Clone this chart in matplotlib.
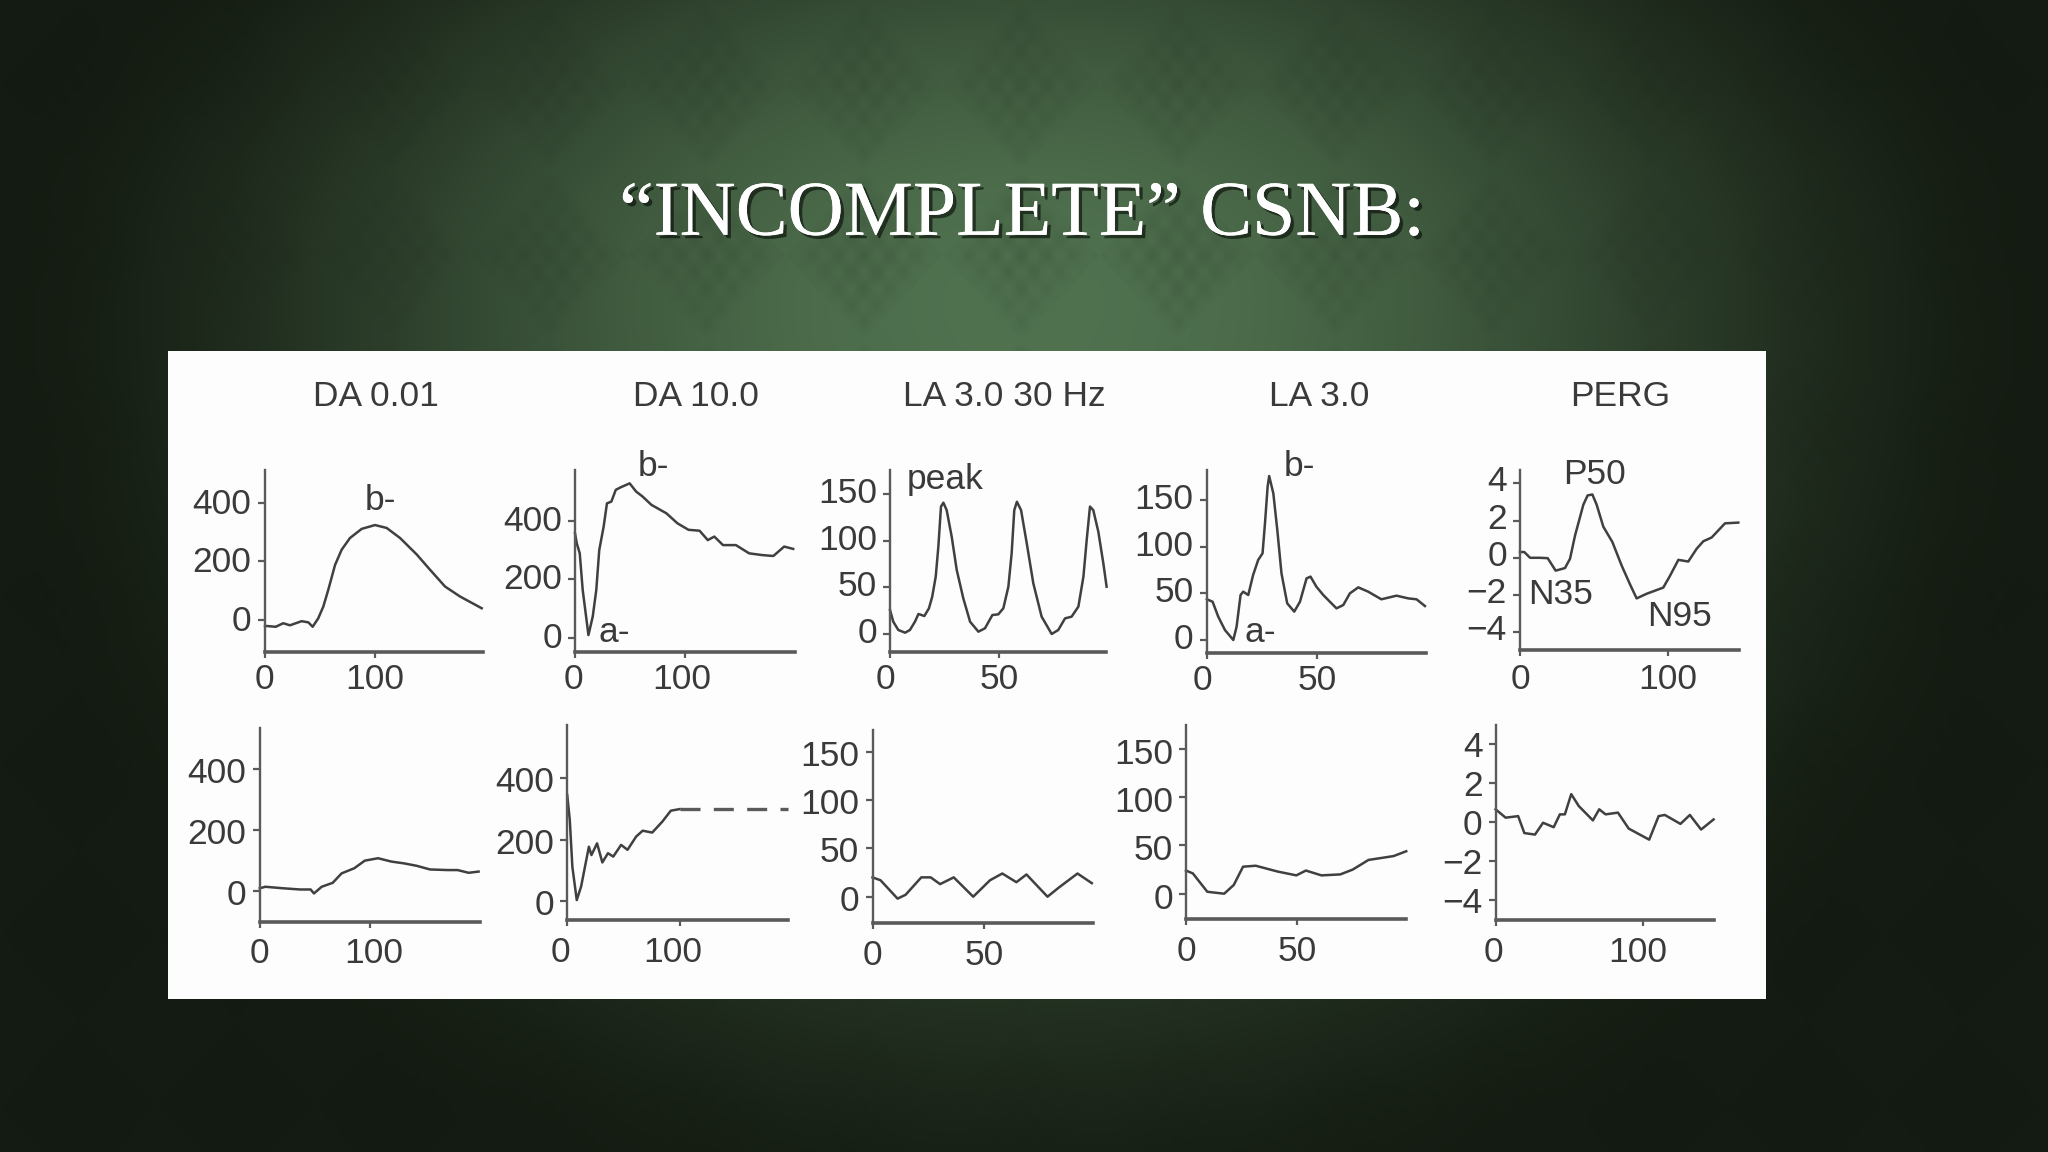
import numpy as np
import matplotlib
matplotlib.use("Agg")
import matplotlib.pyplot as plt
import matplotlib.patheffects as pe
from matplotlib.patches import Rectangle
from matplotlib.transforms import ScaledTranslation

W, H = 2048, 1152

TITLE = "\u201cINCOMPLETE\u201d CSNB:"
column_titles = ["DA 0.01", "DA 10.0", "LA 3.0 30 Hz", "LA 3.0", "PERG"]

da001_top_x = [.5,10.2,17,23.1,33.7,39.8,43.7,48.8,53.4,57.9,64,70,77.6,88.2,100.3,110.9,123,138.1,150.2,163.8,177.4,197.1]
da001_top_y = [-19,-22,-10,-17,-3,-7,-22,7,47,104,188,240,280,311,324,314,280,224,172,115,81,41]
da10_top_x = [0,1.6,4.3,7,12.2,16.1,19.3,22,26,29,33,37,41.7,49.6,55.5,61.4,69.3,83,93,103,113,120.5,126.4,134.3,146,158,170,180,189.8,198]
da10_top_y = [357,323,289,164,11,74,164,300,380,459,465,505,514,527,499,482,454,425,391,369,366,334,346,317,317,289,283,280,312,304]
la30_top_x = [0,1.5,3.8,6.9,9.1,11.4,13,15.7,17.8,19.3,20.9,22.1,23.3,24.4,25.9,28.2,30.5,33.5,36.6,40.4,43.4,46.8,49.5,51.8,54.1,55.6,56.8,58,59.9,62.5,65.5,69.3,73.9,76.9,80,83,86.1,88.4,89.9,91.4,92.9,95.2,97.5,99]
la30_top_y = [25.8,13.2,4.3,1.4,4.3,13.2,21.5,19.3,27.6,40.1,61.6,93.8,136.8,141,133,104.5,68.7,38.3,13.2,2.5,6.1,20.4,21.1,27.6,50.8,86.6,133,142,133,97.4,54.4,18.6,0,4.3,16.8,18.6,29.4,61.6,101,136.8,133,110,75.9,50.8]
la3_top_x = [0,2.6,5.15,8.2,12,13.5,15.3,16.5,18.8,21,23.3,25.3,26.4,27.6,28.3,30.2,32,33.9,36.5,39.7,42.3,45.3,47.1,49.8,52.9,55.9,58.9,62,65,68.8,73.3,79.3,86.2,91.5,95.3,99.1]
la3_top_y = [43.6,41,25,10.7,0,14.3,48.2,51.8,48.2,69.6,85.7,92.9,125,164.3,175.7,157,117.9,71.4,39.3,30.4,41,66,67.9,57,48.2,41,33.9,37.5,50,56.4,51.8,43.6,47.5,44.6,43.6,36.4]
perg_top_x = [0,2.9,6.8,13.5,18.7,24.1,30.4,33.8,37.2,42.8,45.7,48.9,51.8,56.3,62.4,68.7,74.3,78.8,85.6,96.8,101.4,107,113.7,119.4,123.9,129.5,138.5,147.5]
perg_top_y = [.31,.31,0,0,-.02,-.69,-.55,-.05,1.2,2.85,3.35,3.4,2.85,1.67,.85,-.42,-1.42,-2.18,-1.93,-1.6,-.96,-.11,-.2,.49,.89,1.09,1.85,1.89]

da001_bot_x = [0,5,21,36.5,46,49,56,66,74,85.5,95,107,119,130.6,142,154,170,179,189,198]
da001_bot_y = [8,13,8,4,4,-9,13,26,57,74,99,107,96,90,82,70,68,68,59,63]
da10_bot_x = [0,2.3,4.6,8.5,12.4,19.3,21.6,26.6,31.3,36.3,41,48,53.7,61.4,67.2,75.7,84.6,92.3,100]
da10_bot_y = [345,264,112,4,48,177,150,188,126,156,145,183,167,210,229,223,258,294,299]
da10_dash_x = [100,197]
da10_dash_y = [299,299]
la30_bot_x = [0,3.6,11.2,14.8,21.8,26,30.2,36.3,45,52.5,58,64.3,68.8,78.2,83,91.6,98]
la30_bot_y = [20,17,-2,2,20,20,13,20,0,17,24,15,23,0,9,24,14]
la3_bot_x = [0,3.1,9.6,17.2,21.5,25.7,31.4,41.2,49.7,54,61,69.5,75.1,82.2,87.9,93.5,99.2]
la3_bot_y = [24,21,2,0,9,28,29,23,19,24,19,20,25,35,37,39,44]
perg_bot_x = [0,6.8,15.3,19.5,26.7,32.2,39.4,43.6,47,51.3,56.4,66,70.3,74.6,83,90.3,104.2,110.6,114.8,125.4,131.8,139.4,147.9]
perg_bot_y = [.66,.23,.31,-.56,-.64,-.03,-.26,.4,.4,1.44,.83,.09,.66,.4,.49,-.33,-.9,.31,.37,-.09,.37,-.38,.14]

da_yticks = [0, 200, 400]
la_yticks = [0, 50, 100, 150]
perg_yticks = [-4, -2, 0, 2, 4]
da_xticks = [0, 100]
la_xticks = [0, 50]
perg_xticks = [0, 100]

plt.rcParams['font.family'] = ['Liberation Sans', 'DejaVu Sans']
INK = '#3a3a3a'
AXC = '#5a5a5a'
FS = 25.5

fig = plt.figure(figsize=(W/100, H/100), dpi=100)

# background: radial glow with a faint diamond wallpaper
bg = fig.add_axes([0, 0, 1, 1]); bg.axis('off')
yy, xx = np.mgrid[0:H, 0:W].astype(float)
ay = np.where(yy < 300, 620.0, 1000.0)
r2 = ((xx-1024)/1060.0)**2 + ((yy-300)/ay)**2
g = np.clip(1-r2, 0, 1)**2.0
fx = ((xx/157.0) % 1) - .5
fy = ((yy/170.0) % 1) - .5
d = (np.abs(fx) + np.abs(fy))*2
m = np.clip(1-d, 0, 1)**.4 * (0.65+0.35*np.cos(2*np.pi*fx*6)*np.cos(2*np.pi*fy*5))
c0 = np.array([0x14,0x1b,0x12])/255
c1 = np.array([0x50,0x72,0x4f])/255
shade = 1 - 0.10*m*(0.3+g)
img = (c0[None,None,:]*(1-g[...,None]) + c1[None,None,:]*g[...,None])*shade[...,None]
bg.imshow(np.clip(img,0,1), extent=[0,W,H,0], aspect='auto')
bg.set_xlim(0,W); bg.set_ylim(H,0)
bg.add_patch(Rectangle((168,351),1598,648,fc='#fdfdfd',ec='none'))

t = bg.text(1022, 216, TITLE, ha='center', va='center', color='white',
        fontsize=56, family=['Liberation Serif','DejaVu Serif'])
t.set_path_effects([pe.withSimplePatchShadow(offset=(2.5,-2.5), shadow_rgbFace='black', alpha=0.55), pe.Normal()])

def panel(left, right, bot, top, xtp, ytp, xt, yt, xs, ys, ydy=0, xdx=(0,0), xpad=4):
    ax = fig.add_axes([left/W, 1-bot/H, (right-left)/W, (bot-top)/H])
    ax.patch.set_alpha(0)
    xscale = xt[-1]/(xtp-left)
    ax.set_xlim(0, (right-left)*xscale)
    yscale = (yt[-1]-yt[0])/(ytp[0]-ytp[1])
    ax.set_ylim(yt[0]-(bot-ytp[0])*yscale, yt[0]+(ytp[0]-top)*yscale)
    ax.plot(xs, ys, color='#404040', lw=1.8, solid_joinstyle='round', clip_on=False)
    for s in ['top','right']:
        ax.spines[s].set_visible(False)
    ax.spines['left'].set_color(AXC); ax.spines['left'].set_linewidth(1.7)
    ax.spines['bottom'].set_color(AXC); ax.spines['bottom'].set_linewidth(2.6)
    ax.set_xticks(xt); ax.set_yticks(yt)
    ax.set_yticklabels([str(v).replace('-', '\u2212') for v in yt])
    ax.tick_params(axis='y', length=5, width=1.6, color=AXC, pad=4.5, labelsize=FS, labelcolor=INK)
    ax.tick_params(axis='x', length=4, width=1.6, color=AXC, pad=xpad, labelsize=FS, labelcolor=INK)
    for lab in ax.get_yticklabels():
        lab.set_transform(lab.get_transform() + ScaledTranslation(0, -ydy/100, fig.dpi_scale_trans))
    for lab, dx in zip(ax.get_xticklabels(), xdx):
        lab.set_transform(lab.get_transform() + ScaledTranslation(dx/100, 0, fig.dpi_scale_trans))
    return ax

panel(264.5,483,651.7,470,374.7,(620.3,502.7),da_xticks,da_yticks,da001_top_x,da001_top_y,ydy=-2)
panel(575,794.5,651.7,470,685.2,(638.3,520.7),da_xticks,da_yticks,da10_top_x,da10_top_y,ydy=-3,xdx=(-2,-3))
panel(890,1105.6,651.7,470,999.4,(634,494.3),la_xticks,la_yticks,la30_top_x,la30_top_y,ydy=-4,xdx=(-5,0))
panel(1206.9,1425.6,652.7,470,1316.9,(640,500),la_xticks,la_yticks,la3_top_x,la3_top_y,ydy=-4,xdx=(-4,0))
panel(1520,1738.75,650,470,1668,(632.3,483.3),perg_xticks,perg_yticks,perg_top_x,perg_top_y,ydy=-5,xpad=5.5)

panel(259.8,480,921.7,728,370.3,(890.7,769.3),da_xticks,da_yticks,da001_bot_x,da001_bot_y,ydy=1,xdx=(0,3),xpad=7)
a7 = panel(567.2,788,920,725,679.5,(901.3,778),da_xticks,da_yticks,da10_bot_x,da10_bot_y,ydy=1,xdx=(-7,-7),xpad=7.5)
a7.plot(da10_dash_x, da10_dash_y, color='#5a5a5a', lw=2.4, dashes=(6,4), clip_on=False)
panel(872.5,1093,923.3,730,984.4,(896.7,751.7),la_xticks,la_yticks,la30_bot_x,la30_bot_y,ydy=1,xpad=7)
panel(1186,1405.6,919,725,1297,(893.7,749),la_xticks,la_yticks,la3_bot_x,la3_bot_y,ydy=2,xpad=7.5)
panel(1495.6,1713.75,920,725,1643,(900,744.3),perg_xticks,perg_yticks,perg_bot_x,perg_bot_y,xdx=(-2,-5),xpad=7.5)

def label(x, y, s, size=FS):
    bg.text(x, y, s, ha='center', va='center', color=INK, fontsize=size)

for cx, s in zip([376,696,1004,1319,1620], column_titles):
    label(cx, 396, s)
for x,y,s in [(380,501,'b-'),(653,466,'b-'),(614,633,'a-'),(945,480,'peak'),(1299,466,'b-'),
              (1260,633,'a-'),(1595,475,'P50'),(1561,594,'N35'),(1679,617,'N95')]:
    label(x,y,s)

bg.set_xlim(0,W); bg.set_ylim(H,0)
fig.savefig('out.png', dpi=100)
